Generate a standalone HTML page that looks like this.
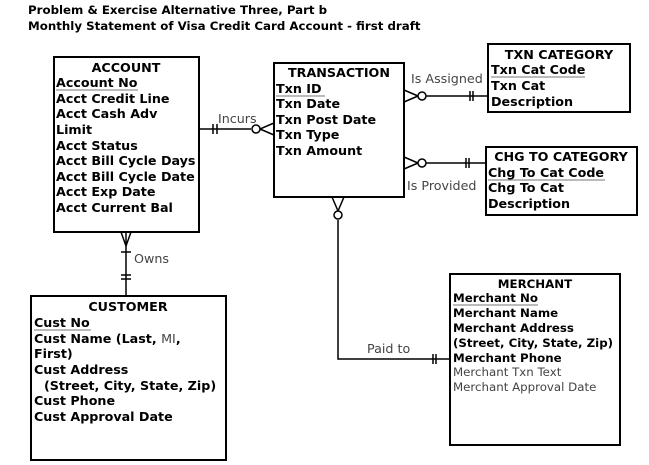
<!DOCTYPE html>
<html><head><meta charset="utf-8"><style>
html,body{margin:0;padding:0;background:#fff;}
svg{display:block;}
text{font-family:"DejaVu Sans","Liberation Sans",sans-serif;font-size:12.7px;font-weight:bold;fill:#000;}
.n{font-weight:normal;fill:#444;}
.t{font-size:11.8px;}
.h{font-size:11.8px;}
</style></head><body>
<svg width="649" height="465" viewBox="0 0 649 465" xmlns="http://www.w3.org/2000/svg">
<text x="28" y="14" class="h">Problem &amp; Exercise Alternative Three, Part b</text>
<text x="28" y="30" class="h">Monthly Statement of Visa Credit Card Account - first draft</text>
<g fill="none" stroke="#000" stroke-width="2">
<rect x="54" y="57" width="145" height="175"/>
<rect x="274" y="63" width="130" height="134"/>
<rect x="488" y="44" width="142" height="68"/>
<rect x="486" y="147" width="151" height="68"/>
<rect x="31" y="296" width="195" height="164"/>
<rect x="450" y="274" width="170" height="171"/>
</g>
<g stroke="#000" stroke-width="1.5" fill="none">
<line x1="199" y1="129" x2="251" y2="129"/>
<line x1="213" y1="124" x2="213" y2="134"/><line x1="217" y1="124" x2="217" y2="134"/>
<circle cx="256" cy="129" r="4" fill="#fff"/>
<line x1="260" y1="129" x2="274" y2="123"/><line x1="260" y1="129" x2="274" y2="135"/>
<line x1="426" y1="96" x2="488" y2="96"/>
<line x1="404" y1="90" x2="418" y2="96"/><line x1="404" y1="102" x2="418" y2="96"/>
<circle cx="422" cy="96" r="4" fill="#fff"/>
<line x1="470" y1="91" x2="470" y2="101"/><line x1="473" y1="91" x2="473" y2="101"/>
<line x1="426" y1="163" x2="486" y2="163"/>
<line x1="404" y1="157" x2="418" y2="163"/><line x1="404" y1="169" x2="418" y2="163"/>
<circle cx="422" cy="163" r="4" fill="#fff"/>
<line x1="466" y1="158" x2="466" y2="168"/><line x1="469" y1="158" x2="469" y2="168"/>
<polyline points="338,220 338,359 450,359"/>
<line x1="332" y1="197" x2="338" y2="211"/><line x1="344" y1="197" x2="338" y2="211"/>
<circle cx="338" cy="215" r="4" fill="#fff"/>
<line x1="433" y1="354" x2="433" y2="364"/><line x1="436" y1="354" x2="436" y2="364"/>
<line x1="126" y1="232" x2="126" y2="296"/>
<line x1="121" y1="232" x2="126" y2="246"/><line x1="131" y1="232" x2="126" y2="246"/>
<line x1="121" y1="252" x2="131" y2="252"/>
<line x1="121" y1="275" x2="131" y2="275"/><line x1="121" y1="279" x2="131" y2="279"/>
</g>
<g>
<text class="n" x="218" y="123">Incurs</text>
<text class="n" x="411" y="83">Is Assigned</text>
<text class="n" x="407" y="190">Is Provided</text>
<text class="n" x="367" y="353">Paid to</text>
<text class="n" x="134" y="263">Owns</text>
</g>
<text x="126" y="72" text-anchor="middle">ACCOUNT</text>
<text x="56" y="87">Account No</text><line x1="56" y1="90" x2="138" y2="90" stroke="#777"/>
<text x="56" y="103">Acct Credit Line</text>
<text x="56" y="118">Acct Cash Adv</text>
<text x="56" y="134">Limit</text>
<text x="56" y="150">Acct Status</text>
<text x="56" y="165">Acct Bill Cycle Days</text>
<text x="56" y="181">Acct Bill Cycle Date</text>
<text x="56" y="196">Acct Exp Date</text>
<text x="56" y="212">Acct Current Bal</text>
<text x="339" y="77" text-anchor="middle">TRANSACTION</text>
<text x="276" y="93">Txn ID</text><line x1="276" y1="96" x2="325" y2="96" stroke="#777"/>
<text x="276" y="108">Txn Date</text>
<text x="276" y="124">Txn Post Date</text>
<text x="276" y="139">Txn Type</text>
<text x="276" y="155">Txn Amount</text>
<text x="559" y="59" text-anchor="middle">TXN CATEGORY</text>
<text x="491" y="74">Txn Cat Code</text><line x1="491" y1="77" x2="585" y2="77" stroke="#777"/>
<text x="491" y="90">Txn Cat</text>
<text x="491" y="106">Description</text>
<text x="561" y="161" text-anchor="middle">CHG TO CATEGORY</text>
<text x="488" y="177">Chg To Cat Code</text><line x1="488" y1="180" x2="605" y2="180" stroke="#777"/>
<text x="488" y="192">Chg To Cat</text>
<text x="488" y="208">Description</text>
<text x="128" y="311" text-anchor="middle">CUSTOMER</text>
<text x="34" y="327">Cust No</text><line x1="34" y1="330" x2="91" y2="330" stroke="#777"/>
<text x="34" y="343">Cust Name (Last, <tspan class="n">MI</tspan>,</text>
<text x="34" y="358">First)</text>
<text x="34" y="374">Cust Address</text>
<text x="44" y="390">(Street, City, State, Zip)</text>
<text x="34" y="405">Cust Phone</text>
<text x="34" y="421">Cust Approval Date</text>
<text x="535" y="288" text-anchor="middle" class="t">MERCHANT</text>
<text x="453" y="302" class="t">Merchant No</text><line x1="453" y1="305" x2="538" y2="305" stroke="#777"/>
<text x="453" y="317" class="t">Merchant Name</text>
<text x="453" y="332" class="t">Merchant Address</text>
<text x="453" y="347" class="t">(Street, City, State, Zip)</text>
<text x="453" y="362" class="t">Merchant Phone</text>
<text x="453" y="376" class="t n">Merchant Txn Text</text>
<text x="453" y="391" class="t n">Merchant Approval Date</text>
</svg>
</body></html>
